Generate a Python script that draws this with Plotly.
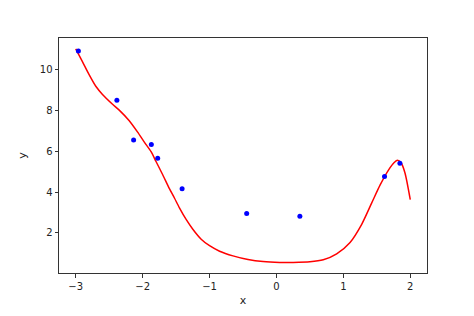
import plotly.graph_objects as go

# Scatter data (blue dots)
pts_x = [-2.96, -2.385, -2.135, -1.87, -1.775, -1.41, -0.445, 0.35, 1.615, 1.845]
pts_y = [10.92, 8.50, 6.56, 6.34, 5.66, 4.16, 2.95, 2.82, 4.77, 5.42]

# Fitted curve (red line)
curve_x = [-3.0, -2.90, -2.80, -2.70, -2.60, -2.45, -2.35, -2.20, -2.075, -1.975,
           -1.874, -1.80, -1.70, -1.60, -1.525, -1.45, -1.35, -1.25, -1.125, -1.0,
           -0.85, -0.65, -0.425, -0.2, 0.05, 0.25, 0.5, 0.70, 0.90, 1.10,
           1.274, 1.424, 1.55, 1.674, 1.76, 1.81, 1.86, 1.92, 2.0]
curve_y = [11.03, 10.40, 9.76, 9.19, 8.79, 8.31, 8.02, 7.50, 6.94, 6.45,
           5.98, 5.50, 4.85, 4.17, 3.71, 3.23, 2.66, 2.18, 1.69, 1.37,
           1.10, 0.87, 0.69, 0.59, 0.55, 0.55, 0.58, 0.68, 0.97, 1.53,
           2.42, 3.47, 4.35, 5.08, 5.45, 5.56, 5.45, 4.95, 3.63]

x_ticks = [-3, -2, -1, 0, 1, 2]
y_ticks = [2, 4, 6, 8, 10]

fig = go.Figure()
fig.add_trace(go.Scatter(x=curve_x, y=curve_y, mode="lines",
                         line=dict(color="red", width=1.5, shape="spline", smoothing=0.7),
                         showlegend=False, hoverinfo="skip"))
fig.add_trace(go.Scatter(x=pts_x, y=pts_y, mode="markers",
                         marker=dict(color="blue", size=5),
                         showlegend=False))

axis_common = dict(showgrid=False, zeroline=False, showline=True, mirror=True,
                   linecolor="#333333", linewidth=1, ticks="outside", ticklen=3.5,
                   tickwidth=1, tickcolor="#333333",
                   tickfont=dict(family="DejaVu Sans", size=10, color="#222222"))

fig.update_layout(
    width=474, height=316,
    margin=dict(l=59, r=47, t=38, b=40),
    paper_bgcolor="white", plot_bgcolor="white",
    xaxis=dict(range=[-3.25, 2.25], tickvals=x_ticks,
               title=dict(text="x", font=dict(family="DejaVu Sans", size=11, color="#222222"), standoff=5),
               **axis_common),
    yaxis=dict(range=[0.03, 11.56], tickvals=y_ticks,
               title=dict(text="y", font=dict(family="DejaVu Sans", size=11, color="#222222"), standoff=10),
               **axis_common),
)

fig.write_html("out.html")
